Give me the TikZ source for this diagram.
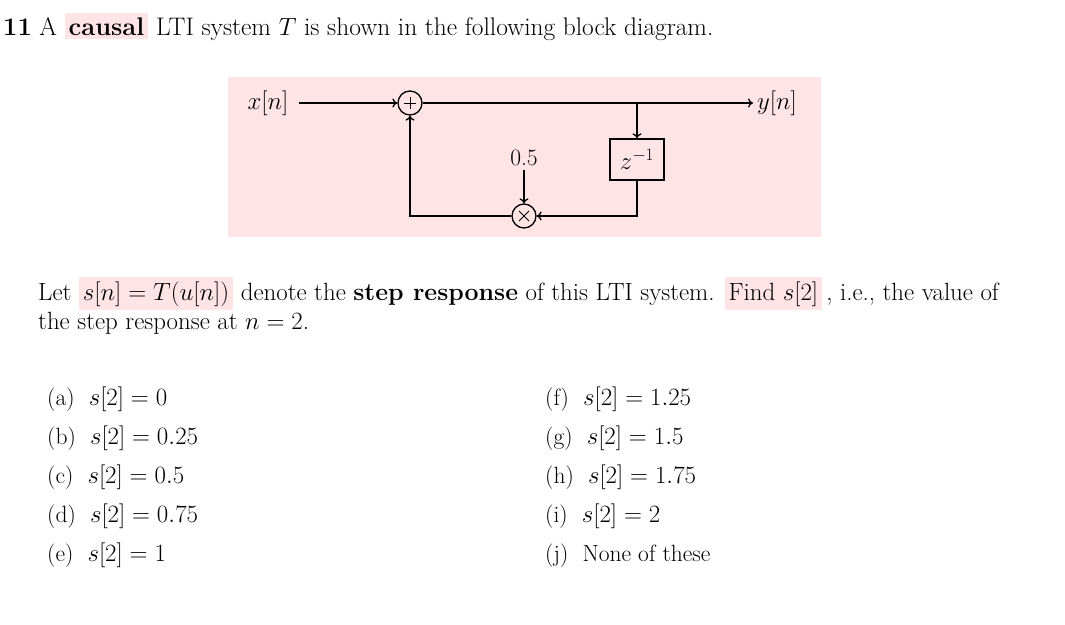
\documentclass[tikz,border=0pt]{standalone}
\usepackage{xcolor}
\usetikzlibrary{arrows.meta}
\definecolor{hl}{RGB}{255,228,230}
\begin{document}
\begin{tikzpicture}[x=1pt,y=-1pt,
  txt/.style={inner sep=0pt,anchor=base west,font=\fontsize{23.5}{28}\selectfont},
  dtxt/.style={inner sep=0pt,font=\fontsize{23.5}{28}\selectfont},
  wire/.style={line width=1.3pt},
  arr/.style={wire,-{To[length=5pt,width=9pt]}},
  op/.style={circle,draw,line width=1.3pt,minimum size=24pt,inner sep=0pt}]
\useasboundingbox (0,0) rectangle (1065,624);
\fill[white] (0,0) rectangle (1065,624);
\setlength{\fboxsep}{4pt}
\node[txt,font=\fontsize{25.4}{30}\selectfont] (title) at (3,35) {\textbf{11} A \colorbox{hl}{\textbf{causal}} LTI system $T$ is shown in the following block diagram.};
\fill[hl] (228,77) rectangle (821,237);
\node[dtxt] (x) at (268,103) {$x[n]$};
\node[op] (add) at (410,103) {};
\draw[line width=1pt] (404,103) -- (416,103) (410,97) -- (410,109);
\node[dtxt] (y) at (777,103) {$y[n]$};
\node[draw,wire,minimum width=54pt,minimum height=41pt,inner sep=0pt] (z) at (637,159.5) {\fontsize{23.5}{28}\selectfont$z^{-1}$};
\node[op] (mul) at (524,216) {};
\draw[line width=1pt] (519,211) -- (529,221) (519,221) -- (529,211);
\node[dtxt] (g) at (524,158) {0.5};
\coordinate (br) at (637,103);
\draw[arr] (x.east) ++(10,0) -- (add.west);
\draw[arr] (add.east) -- (753,103);
\draw[arr] (br) -- (z.north);
\draw[arr] (z.south) |- (mul.east);
\draw[arr] (g.south) ++(0,4) -- (mul.north);
\draw[arr] (mul.west) -| (add.south);
\node[txt,font=\fontsize{24.9}{30}\selectfont] (p1) at (38,300) {Let \colorbox{hl}{$s[n]=T(u[n])$} denote the \textbf{step response} of this LTI system. \colorbox{hl}{Find $s[2]$}\,, i.e., the value of};
\node[txt,font=\fontsize{24.9}{30}\selectfont] (p2) at (38,329) {the step response at $n=2$.};
\foreach \l/\v [count=\i] in {a/0,b/0.25,c/0.5,d/0.75,e/1}
  \node[txt] (o\l) at (47,405+39*\i-39) {(\l)\ \ $s[2]=\v$};
\foreach \l/\v [count=\i] in {f/1.25,g/1.5,h/1.75,i/2}
  \node[txt] (o\l) at (545,405+39*\i-39) {(\l)\ \ $s[2]=\v$};
\node[txt] (oj) at (545,561) {(j)\ \ None of these};
\end{tikzpicture}
\end{document}
